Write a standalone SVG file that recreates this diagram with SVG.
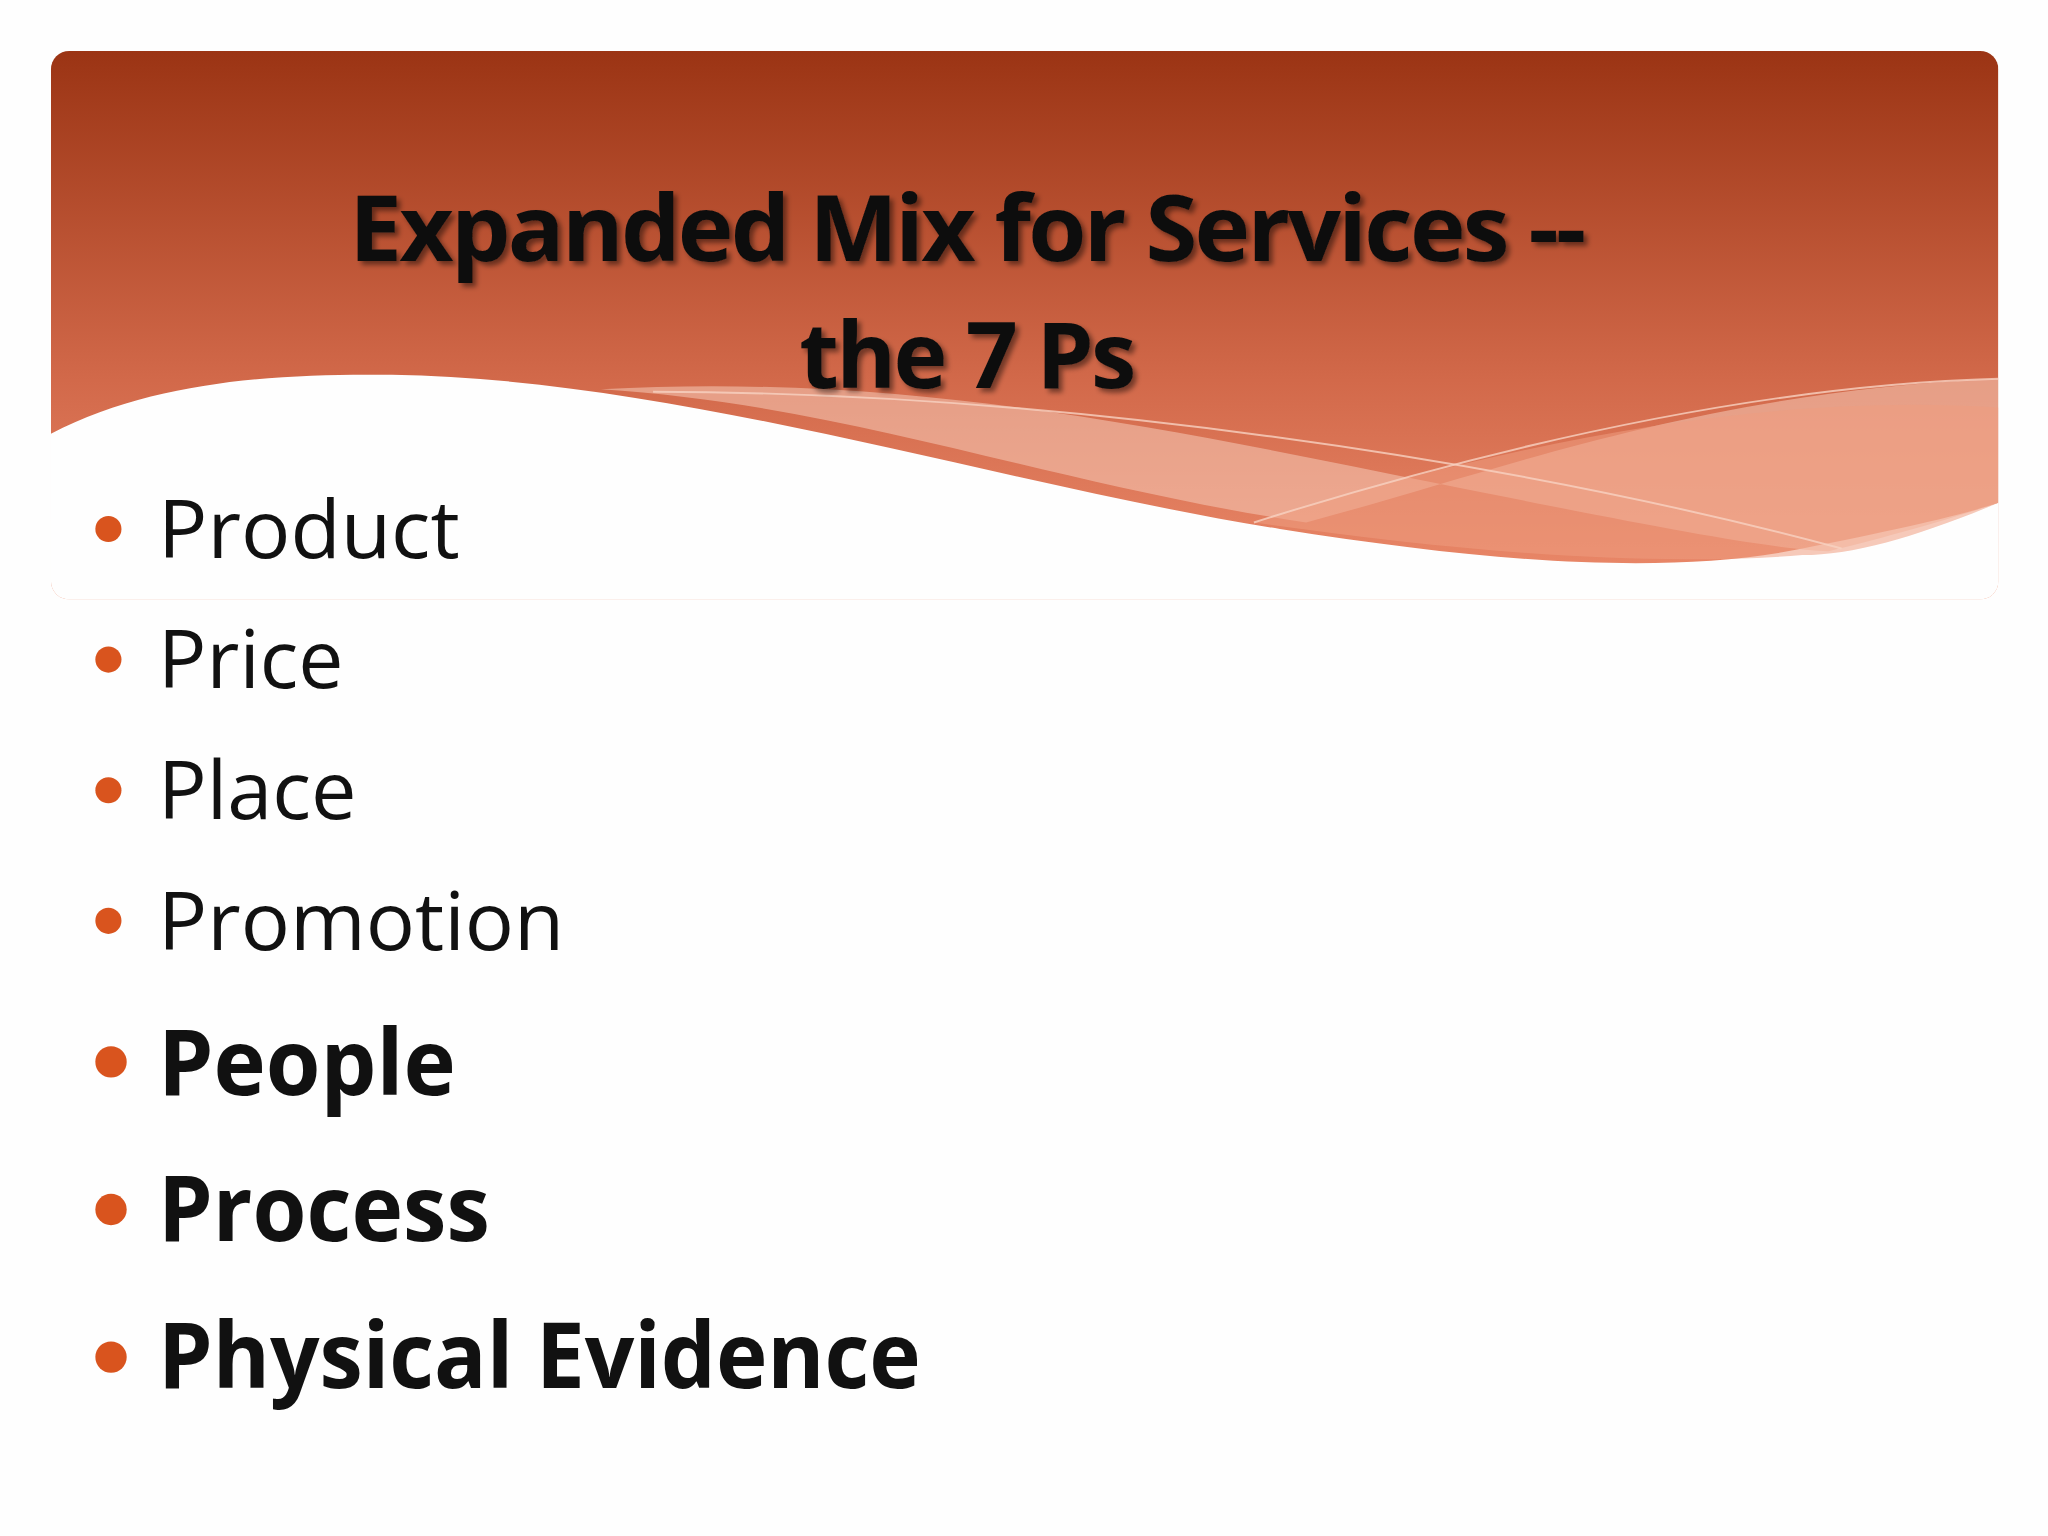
<svg xmlns="http://www.w3.org/2000/svg" width="2048" height="1536" viewBox="0 0 2048 1536">
<defs>
<linearGradient id="hg" x1="0" y1="0" x2="0" y2="1">
<stop offset="0" stop-color="#9b3414"/><stop offset="0.6" stop-color="#d2694a"/><stop offset="1" stop-color="#ec8b6c"/>
</linearGradient>
<clipPath id="hc"><rect x="39" y="39" width="1491" height="420" rx="14"/></clipPath>
<filter id="sh" x="-5%" y="-20%" width="110%" height="140%"><feDropShadow dx="3" dy="3" stdDeviation="2" flood-color="#000" flood-opacity="0.45"/></filter>
<style>
.n{font-family:"Open Sans","Noto Sans",sans-serif;font-size:62px;fill:#111}
.b{font-family:"Open Sans","Noto Sans",sans-serif;font-weight:bold;font-size:70px;fill:#111}
.t{font-family:"Open Sans","Noto Sans",sans-serif;font-weight:bold;font-size:70px;fill:#111;letter-spacing:-2px}
.d{fill:#d9541e}
</style>
</defs>
<rect width="2048" height="1536" fill="#fefefe"/>
<g transform="scale(1.30612)">
<g id="header" clip-path="url(#hc)">
<rect x="39" y="39" width="1491" height="420" fill="url(#hg)"/>
<path d="M39 332 C120 290 220 286 300 287 C520 290 760 370 980 405 C1150 432 1280 440 1380 420 C1450 406 1500 395 1530 385 L1530 470 L39 470 Z" fill="#fefefe"/>
<path d="M460 298 C700 285 900 330 1100 370 C1250 400 1350 420 1400 422 C1450 410 1500 395 1530 385 L1530 290 C1300 300 1150 360 1000 400 C800 370 650 310 460 298 Z" fill="#f6cbb8" opacity="0.55"/>
<path d="M960 400 C1150 340 1350 300 1530 312 L1530 385 C1470 410 1420 425 1380 425 C1250 435 1100 420 960 400 Z" fill="#ee9c80" opacity="0.55"/>
<path d="M500 300 C800 300 1150 350 1410 420" fill="none" stroke="#f7d2c2" stroke-width="1.5" opacity="0.8"/>
<path d="M960 400 C1150 340 1350 295 1530 290" fill="none" stroke="#f7d2c2" stroke-width="1.5" opacity="0.8"/>
</g>
<g id="title" filter="url(#sh)">
<text class="t" x="740" y="200" text-anchor="middle" textLength="945" lengthAdjust="spacingAndGlyphs">Expanded Mix for Services --</text>
<text class="t" x="740" y="297" text-anchor="middle" textLength="256" lengthAdjust="spacingAndGlyphs">the 7 Ps</text>
</g>
<g id="bullets">
<circle class="d" cx="83" cy="405" r="10"/><text class="n" x="121" y="427" textLength="231" lengthAdjust="spacingAndGlyphs">Product</text>
<circle class="d" cx="83" cy="505" r="10"/><text class="n" x="121" y="527" textLength="142" lengthAdjust="spacingAndGlyphs">Price</text>
<circle class="d" cx="83" cy="605" r="10"/><text class="n" x="121" y="627" textLength="152" lengthAdjust="spacingAndGlyphs">Place</text>
<circle class="d" cx="83" cy="705" r="10"/><text class="n" x="121" y="727" textLength="311" lengthAdjust="spacingAndGlyphs">Promotion</text>
<circle class="d" cx="85" cy="813" r="12"/><text class="b" x="121" y="838" textLength="228" lengthAdjust="spacingAndGlyphs">People</text>
<circle class="d" cx="85" cy="926" r="12"/><text class="b" x="121" y="950" textLength="254" lengthAdjust="spacingAndGlyphs">Process</text>
<circle class="d" cx="85" cy="1039" r="12"/><text class="b" x="121" y="1063" textLength="584" lengthAdjust="spacingAndGlyphs">Physical Evidence</text>
</g>
</g>
</svg>
